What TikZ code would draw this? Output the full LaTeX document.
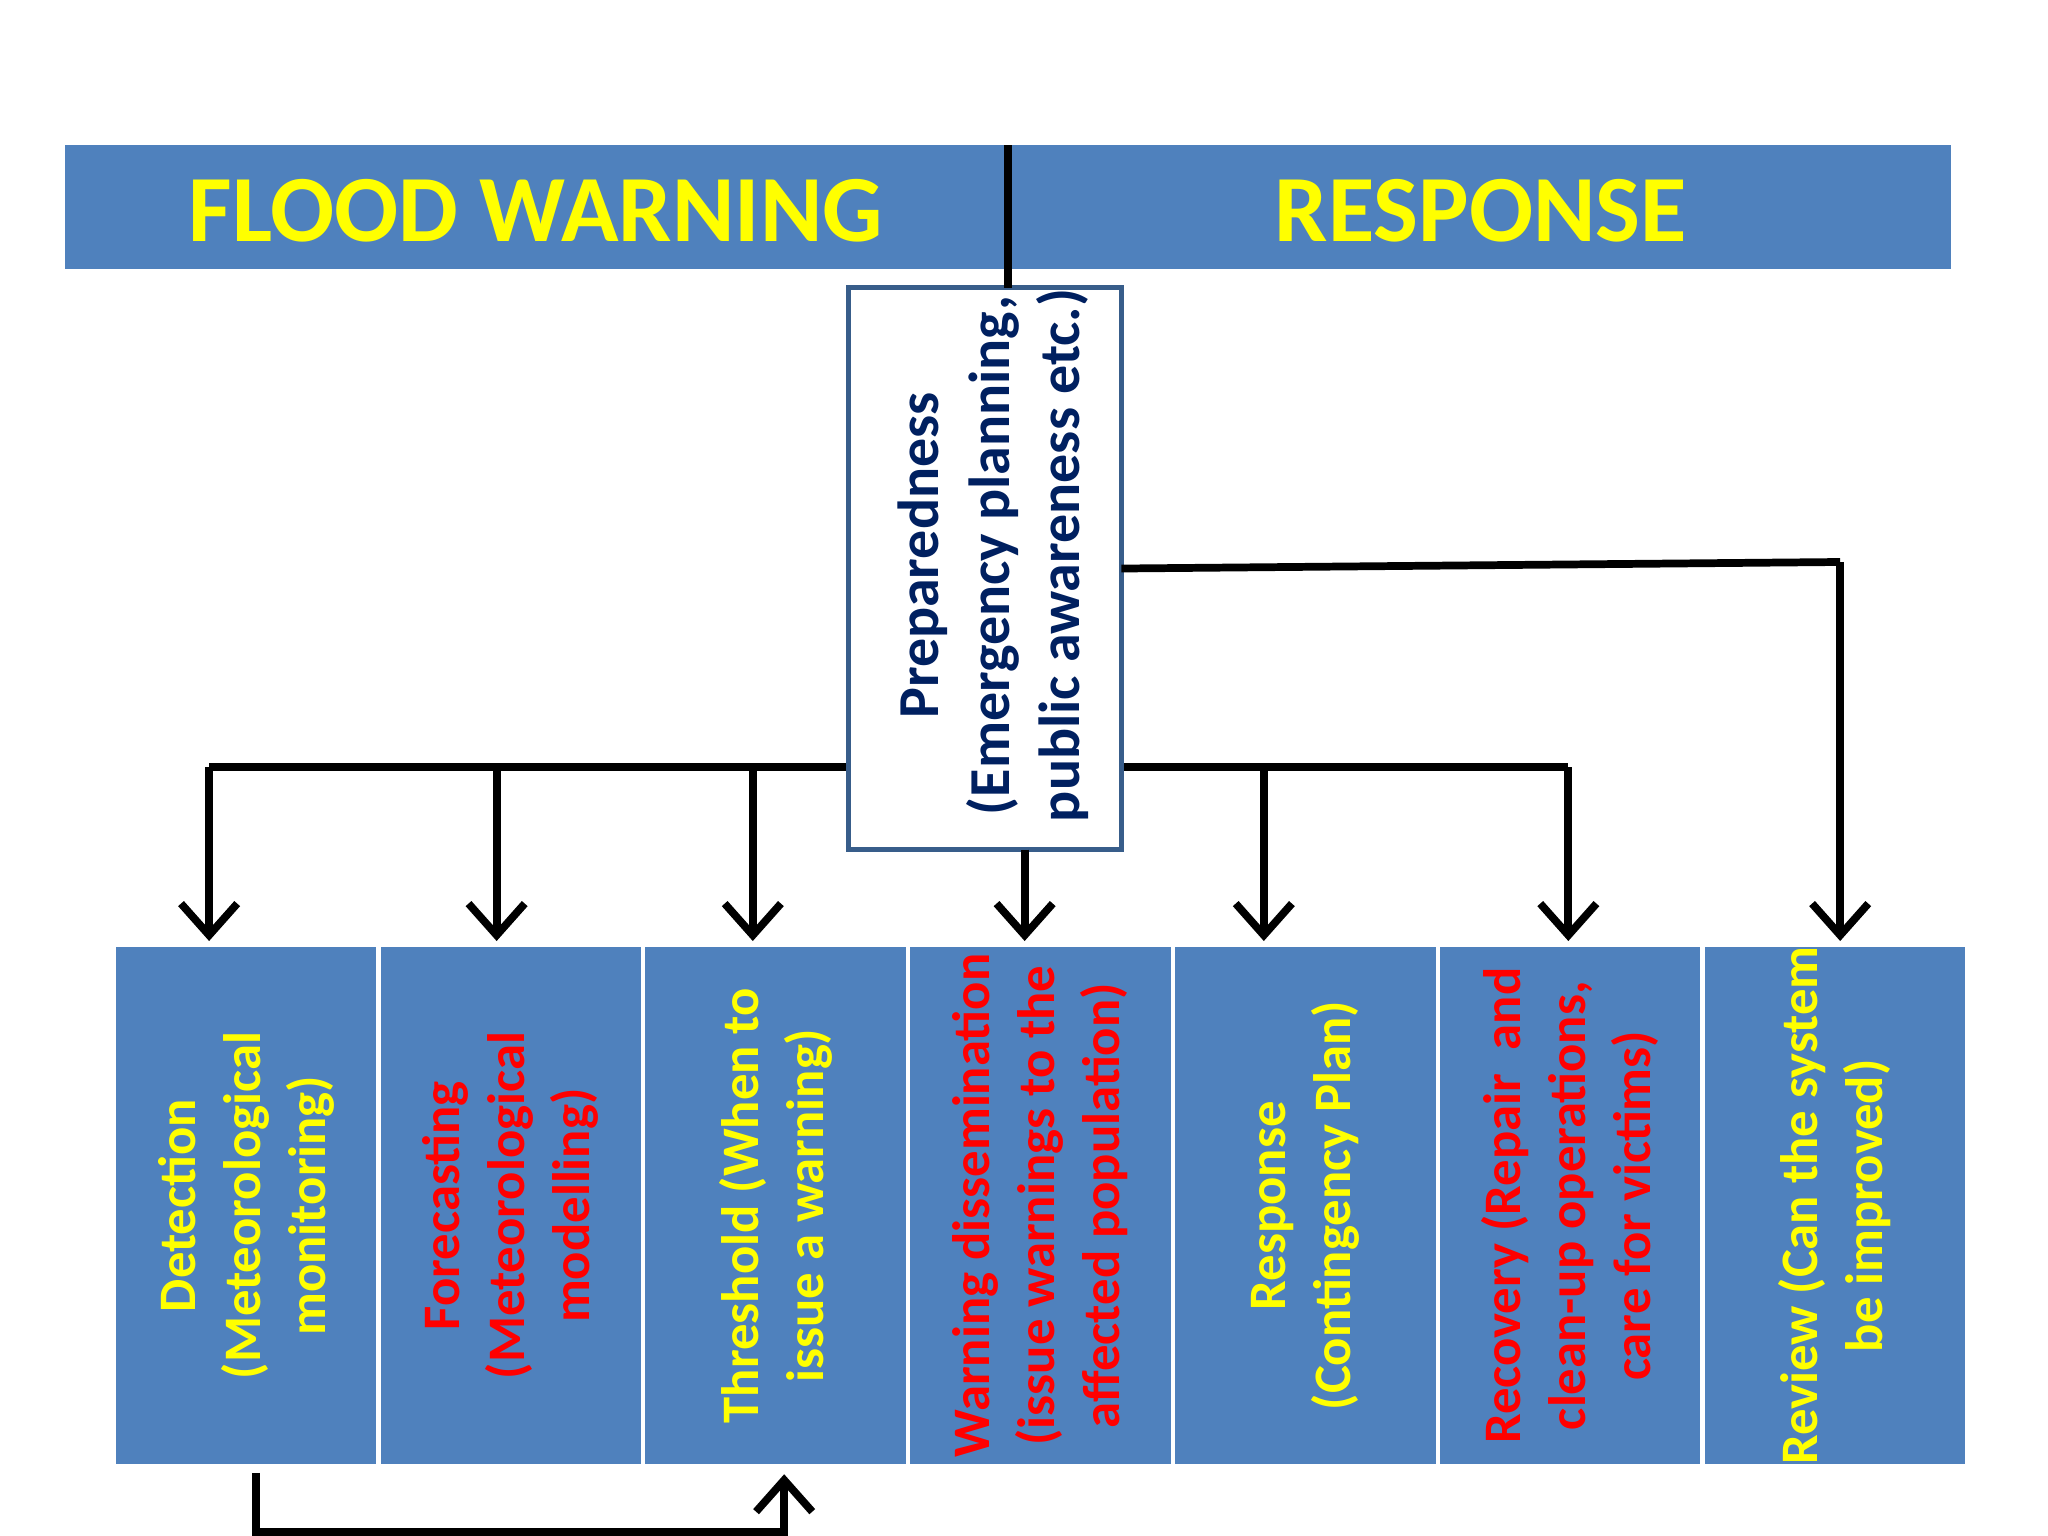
\documentclass[tikz,border=0pt]{standalone}
\usepackage{fontspec}
\setmainfont{Carlito}
\usetikzlibrary{arrows.meta}
\definecolor{bblue}{RGB}{79,129,189}
\definecolor{dblue}{RGB}{56,93,138}
\definecolor{navy}{RGB}{0,32,96}
\definecolor{yel}{RGB}{255,255,0}
\definecolor{rd}{RGB}{255,0,0}
\begin{document}
\begin{tikzpicture}[x=0.01307cm,y=-0.01307cm,
  conn/.style={line width=2.2pt,black},
  arr/.style={conn,-{Straight Barb[length=9pt,width=16pt,line width=2.2pt]}},
  box/.style={fill=bblue,draw=white,line width=1.2pt,minimum width=202.6*0.01307cm,minimum height=399*0.01307cm,inner sep=0pt},
  lab/.style={rotate=90,align=center,font=\bfseries\fontsize{15}{18.5}\selectfont},
  ttl/.style={text=yel,font=\bfseries\fontsize{27}{30}\selectfont}]
\useasboundingbox (0,0) rectangle (1567,1175);
\fill[bblue] (50,111) rectangle (1493,206);
\node[ttl] (fw) at (410,161) {FLOOD WARNING};
\node[ttl] (rs) at (1133,161) {RESPONSE};
\node[draw=dblue,line width=1.5pt,fill=white,minimum width=209*0.01307cm,minimum height=430*0.01307cm,inner sep=0pt] (prep) at (753.5,435) {};
\node[rotate=90,align=center,text=navy,font=\bfseries\fontsize{16.5}{20}\selectfont] (preptxt) at (760,425) {Preparedness\\(Emergency planning,\\public awareness etc.)};
\coordinate (top) at (771,111);
\draw[conn] (top) -- (771,220);
\foreach \i/\t/\c in {1/{Detection\\(Meteorological\\monitoring)}/yel,
  2/{Forecasting\\(Meteorological\\modelling)}/rd,
  3/{Threshold (When to\\issue a warning)}/yel,
  4/{Warning dissemination\\(issue warnings to the\\affected population)}/rd,
  5/{Response\\(Contingency Plan)}/yel,
  6/{Recovery (Repair \ and\\clean-up operations,\\care for victims)}/rd,
  7/{Review (Can the system\\be improved)}/yel}{
  \node[box] (b\i) at ({87+202.6*(\i-0.5)},922.5) {};
  \node[lab,text=\c] (t\i) at (b\i.center) {\t};
}
% left branch
\coordinate (lj) at (160,587);
\draw[conn] (prep.west |- lj) -- (lj);
\draw[arr] (lj) -- (160,720);
\draw[arr] (380,587) -- (380,720);
\draw[arr] (576,587) -- (576,720);
% bottom from prep
\draw[arr] (784,650) -- (784,720);
% right branch
\coordinate (rj) at (1200,587);
\draw[conn] (prep.east |- rj) -- (rj);
\draw[arr] (rj) -- (1200,720);
\draw[arr] (967,587) -- (967,720);
% review
\coordinate (rv) at (1408,430);
\draw[conn] (858,435) -- (rv);
\draw[arr] (rv) -- (1408,720);
% bottom loop
\coordinate (bl) at (196,1127);
\coordinate (bt) at (600,1128);
\draw[conn,-{Straight Barb[length=9pt,width=16pt,line width=2.2pt]}] (bl) -- (196,1172) -- (600,1172) -- (bt);
\end{tikzpicture}
\end{document}
